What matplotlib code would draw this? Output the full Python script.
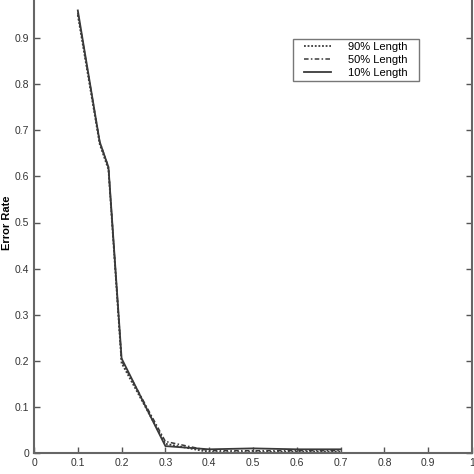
import matplotlib
matplotlib.use('Agg')
import matplotlib.pyplot as plt
from matplotlib.ticker import FuncFormatter
from matplotlib.path import Path

plt.rcParams['font.family'] = ['Liberation Sans', 'DejaVu Sans']

# x values (fraction) and error rates per length setting
x = [0.1, 0.15, 0.17, 0.2, 0.3, 0.4, 0.5, 0.6, 0.7]
err_90 = [0.950, 0.670, 0.615, 0.195, 0.020, 0.002, 0.002, 0.003, 0.003]
err_50 = [0.955, 0.675, 0.620, 0.200, 0.025, 0.005, 0.005, 0.005, 0.005]
err_10 = [0.960, 0.675, 0.620, 0.205, 0.015, 0.008, 0.010, 0.008, 0.008]

labels = ['90% Length', '50% Length', '10% Length']
xticks = [i / 10 for i in range(11)]
yticks = [i / 10 for i in range(10)]

fig = plt.figure(figsize=(4.74, 4.74), dpi=100)
ax = fig.add_axes([34 / 474, 21 / 474, 438 / 474, 461 / 474])

col = '#3a3a3a'
ax.plot(x, err_90, linestyle=(0, (1, 1)), color=col, lw=1.3, label=labels[0])
ax.plot(x, err_50, linestyle=(0, (3, 1.5, 1, 1.5)), color=col, lw=1.1, label=labels[1])
ax.plot(x, err_10, linestyle='-', color=col, lw=1.3, label=labels[2])

ax.set_xlim(0, 1)
ax.set_ylim(0, 1)
ax.set_xticks(xticks)
ax.set_yticks(yticks)
fmt = FuncFormatter(lambda v, p: '%g' % round(v, 2))
ax.xaxis.set_major_formatter(fmt)
ax.yaxis.set_major_formatter(fmt)
ax.tick_params(direction='in', length=4, width=1, colors='#555555',
               labelcolor='#333333', labelsize=7.5, right=True, top=False)
for s in ax.spines.values():
    s.set_color('#666666')
    s.set_linewidth(1.5)

ax.set_ylabel('Error Rate', fontsize=8, fontweight='bold', labelpad=2)


# legend frame: wider padding left/right than top/bottom
def wide_box(x0, y0, width, height, mutation_size):
    px = 0.9 * mutation_size
    py = 0.15 * mutation_size
    xa, xb = x0 - px, x0 + width + px
    ya, yb = y0 - py, y0 + height + py
    return Path([(xa, ya), (xb, ya), (xb, yb), (xa, yb), (xa, ya)], closed=True)


leg = ax.legend(loc='upper left', bbox_to_anchor=(0.615, 0.895), fontsize=8,
                frameon=True, fancybox=False, handlelength=2.4, handletextpad=1.5,
                labelspacing=0.28, borderpad=0.1, borderaxespad=0)
leg.get_frame().set_edgecolor('#555555')
leg.get_frame().set_linewidth(1.0)
leg.get_frame().set_boxstyle(wide_box)

fig.savefig('out.png', dpi=100)
